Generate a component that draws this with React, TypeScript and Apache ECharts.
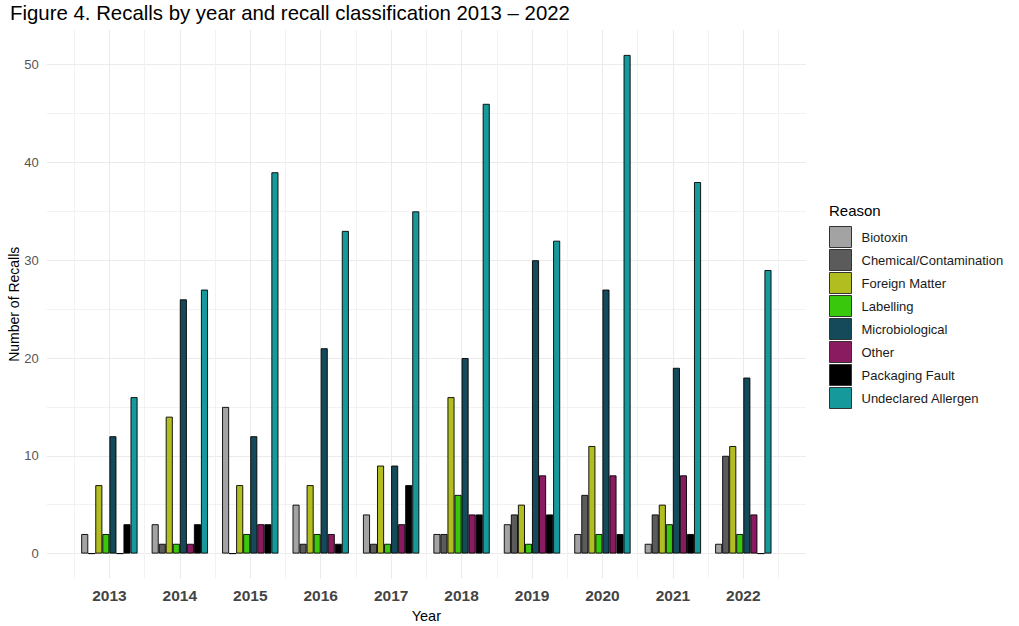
import React, { useEffect, useRef } from "react";
import * as echarts from "echarts";

const years = [2013, 2014, 2015, 2016, 2017, 2018, 2019, 2020, 2021, 2022];
const biotoxin = [2, 3, 15, 5, 4, 2, 3, 2, 1, 1];
const chemical = [0, 1, 0, 1, 1, 2, 4, 6, 4, 10];
const foreignMatter = [7, 14, 7, 7, 9, 16, 5, 11, 5, 11];
const labelling = [2, 1, 2, 2, 1, 6, 1, 2, 3, 2];
const microbiological = [12, 26, 12, 21, 9, 20, 30, 27, 19, 18];
const other = [0, 1, 3, 2, 3, 4, 8, 8, 8, 4];
const packagingFault = [3, 3, 3, 1, 7, 4, 4, 2, 2, 0];
const undeclaredAllergen = [16, 27, 39, 33, 35, 46, 32, 51, 38, 29];

const reasons = [
  "Biotoxin",
  "Chemical/Contamination",
  "Foreign Matter",
  "Labelling",
  "Microbiological",
  "Other",
  "Packaging Fault",
  "Undeclared Allergen",
];
const reasonValues = [
  biotoxin,
  chemical,
  foreignMatter,
  labelling,
  microbiological,
  other,
  packagingFault,
  undeclaredAllergen,
];
const reasonColors = [
  "#a3a3a3",
  "#5b5b5b",
  "#b2be1f",
  "#3ac80c",
  "#154a5a",
  "#8a1b60",
  "#000000",
  "#16999b",
];

const yTickLabels = [0, 10, 20, 30, 40, 50];
const yMinorTicks = [5, 15, 25, 35, 45];
const xMinorTicks = [2012.5, 2013.5, 2014.5, 2015.5, 2016.5, 2017.5, 2018.5, 2019.5, 2020.5, 2021.5, 2022.5];

const FONT = "'Liberation Sans', Arial, sans-serif";

// panel geometry (pixels)
const PANEL_LEFT = 46.7;
const PANEL_RIGHT = 806;
const PANEL_TOP = 30;
const PANEL_BOTTOM = 578.5;
const X_MIN = 2012.11;
const X_MAX = 2022.89;

export default function App() {
  const ref = useRef<HTMLDivElement>(null);

  useEffect(() => {
    if (!ref.current) return;
    const chart = echarts.init(ref.current, undefined, { renderer: "svg" });

    const pxPerYear = (PANEL_RIGHT - PANEL_LEFT) / (X_MAX - X_MIN);
    const barGridLeft = PANEL_LEFT + (years[0] - 0.5 - X_MIN) * pxPerYear;
    const barGridRight = PANEL_LEFT + (years[years.length - 1] + 0.5 - X_MIN) * pxPerYear;

    const major = { color: "#ebebeb", width: 1.1, type: "solid" };
    const minor = { color: "#f0f0f0", width: 0.9, type: "solid" };
    const gridLineData = [
      ...yTickLabels.map((v) => ({ yAxis: v, lineStyle: major })),
      ...yMinorTicks.map((v) => ({ yAxis: v, lineStyle: minor })),
      ...years.map((v) => ({ xAxis: v, lineStyle: major })),
      ...xMinorTicks.map((v) => ({ xAxis: v, lineStyle: minor })),
    ];

    const barSeries = reasons.map((name, i) => ({
      name,
      type: "bar",
      xAxisIndex: 1,
      yAxisIndex: 1,
      data: reasonValues[i],
      barGap: "0%",
      barCategoryGap: "20%",
      z: 10,
      itemStyle: {
        color: reasonColors[i],
        borderColor: "#000000",
        borderWidth: 0.9,
      },
      emphasis: { disabled: true },
    }));

    chart.setOption({
      animation: false,
      backgroundColor: "#ffffff",
      textStyle: { fontFamily: FONT },
      title: [
        {
          text: "Figure 4. Recalls by year and recall classification 2013 \u2013 2022",
          left: 10,
          top: 3,
          padding: 0,
          textStyle: { fontSize: 20.4, fontWeight: "normal", color: "#000000", fontFamily: FONT },
        },
        {
          text: "Reason",
          left: 829,
          top: 203,
          padding: 0,
          textStyle: { fontSize: 15, fontWeight: "normal", color: "#000000", fontFamily: FONT },
        },
      ],
      graphic: [
        {
          type: "text",
          x: 14,
          y: (PANEL_TOP + PANEL_BOTTOM) / 2,
          rotation: Math.PI / 2,
          silent: true,
          style: {
            text: "Number of Recalls",
            fontSize: 14,
            fontFamily: FONT,
            fill: "#000000",
            align: "center",
            verticalAlign: "middle",
          },
        },
      ],
      legend: {
        orient: "vertical",
        left: 829,
        top: 226,
        padding: 0,
        itemWidth: 22,
        itemHeight: 21,
        itemGap: 1.0,
        icon: "rect",
        data: reasons,
        textStyle: { fontSize: 13, color: "#1a1a1a", fontFamily: FONT, padding: [0, 0, 0, 5] },
        itemStyle: { borderColor: "#333333", borderWidth: 1 },
        selectedMode: false,
      },
      grid: [
        {
          left: PANEL_LEFT,
          right: 1019 - PANEL_RIGHT,
          top: PANEL_TOP,
          bottom: 626 - PANEL_BOTTOM,
          containLabel: false,
          outerBoundsMode: "none",
        },
        {
          left: barGridLeft,
          right: 1019 - barGridRight,
          top: PANEL_TOP,
          bottom: 626 - PANEL_BOTTOM,
          containLabel: false,
          outerBoundsMode: "none",
        },
      ],
      xAxis: [
        {
          type: "value",
          gridIndex: 0,
          min: X_MIN,
          max: X_MAX,
          name: "Year",
          nameLocation: "middle",
          nameGap: 25,
          nameTextStyle: { fontSize: 14.5, color: "#000000", fontFamily: FONT },
          axisLine: { show: false },
          axisTick: { show: false },
          splitLine: { show: false },
          axisLabel: {
            customValues: years,
            formatter: (v: number) => String(v),
            fontSize: 15.5,
            fontWeight: "bold",
            color: "#444444",
            margin: 9,
            fontFamily: FONT,
          },
        },
        {
          type: "category",
          gridIndex: 1,
          data: years.map(String),
          axisLine: { show: false },
          axisTick: { show: false },
          axisLabel: { show: false },
          splitLine: { show: false },
        },
      ],
      yAxis: [
        {
          type: "value",
          gridIndex: 0,
          min: -2.55,
          max: 53.55,
          axisLine: { show: false },
          axisTick: { show: false },
          splitLine: { show: false },
          axisLabel: {
            customValues: yTickLabels,
            formatter: (v: number) => String(v),
            fontSize: 13,
            color: "#555555",
            margin: 8,
            fontFamily: FONT,
          },
        },
        {
          type: "value",
          gridIndex: 1,
          min: -2.55,
          max: 53.55,
          axisLine: { show: false },
          axisTick: { show: false },
          axisLabel: { show: false },
          splitLine: { show: false },
        },
      ],
      series: [
        {
          name: "__grid",
          type: "line",
          xAxisIndex: 0,
          yAxisIndex: 0,
          data: [],
          silent: true,
          z: 0,
          markLine: {
            silent: true,
            symbol: ["none", "none"],
            z: 0,
            label: { show: false },
            emphasis: { disabled: true },
            animation: false,
            data: gridLineData,
          },
        },
        ...barSeries,
      ],
    });

    return () => chart.dispose();
  }, []);

  return (
    <div
      ref={ref}
      style={{ position: "fixed", left: 0, top: 0, width: 1019, height: 626 }}
    />
  );
}
